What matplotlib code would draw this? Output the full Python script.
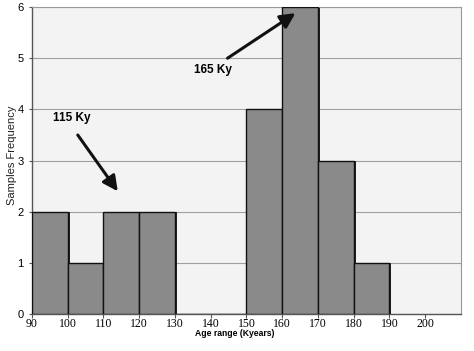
import matplotlib.pyplot as plt
import numpy as np

bin_edges = [90, 100, 110, 120, 130, 140, 150, 160, 170, 180, 190]
counts = [2, 1, 2, 2, 0, 0, 4, 6, 3, 1]
x_ticks = [90, 100, 110, 120, 130, 140, 150, 160, 170, 180, 190, 200]
y_ticks = [0, 1, 2, 3, 4, 5, 6]

fig = plt.figure(figsize=(4.74, 3.51), dpi=100)
fig.patch.set_facecolor('white')
ax = fig.add_axes([0.0675, 0.105, 0.905, 0.875])
ax.set_facecolor('#f3f3f3')

lefts = np.array(bin_edges[:-1])
widths = np.diff(bin_edges)
# shadow on right edge
ax.bar(lefts + 0.5, counts, width=widths, align='edge', color='#222222',
       edgecolor='none', zorder=2)
ax.bar(lefts, counts, width=widths, align='edge', color='#8a8a8a',
       edgecolor='#111111', linewidth=1.0, zorder=3)

ax.set_xlim(90, 210)
ax.set_ylim(0, 6)
ax.set_xticks(x_ticks)
ax.set_xticklabels([str(t) for t in x_ticks], family='Liberation Serif', fontsize=8.5)
ax.set_yticks(y_ticks)
ax.set_yticklabels([str(t) for t in y_ticks], family='Liberation Sans', fontsize=8)
ax.yaxis.grid(True, color='#a0a0a0', linewidth=0.8, zorder=0)
ax.set_axisbelow(True)
ax.tick_params(axis='x', length=3, width=0.8, pad=-0.5, color='#555555')
ax.tick_params(axis='y', length=2, width=0.8, pad=4, color='#555555')
for side in ['top', 'right']:
    ax.spines[side].set_color('#999999')
    ax.spines[side].set_linewidth(0.8)
for side in ['left', 'bottom']:
    ax.spines[side].set_color('#555555')
    ax.spines[side].set_linewidth(1.0)

ax.set_xlabel('Age range (Kyears)', family='Liberation Sans', fontsize=6.2,
              fontweight='bold', va='center')
ax.xaxis.set_label_coords(0.472, -0.064)
ax.set_ylabel('Samples Frequency', family='Liberation Sans', fontsize=8,
              va='center', color='#222222')
ax.yaxis.set_label_coords(-0.047, 0.518)

arrow = dict(arrowstyle='-|>,head_length=0.9,head_width=0.45', color='#111111',
             lw=2.2, shrinkA=0, shrinkB=0)
ax.annotate('', xy=(114, 2.4), xytext=(102.8, 3.5), arrowprops=arrow, zorder=5)
ax.text(101, 3.84, '115 Ky', family='Liberation Sans', fontsize=8.5,
        fontweight='bold', ha='center', va='center')
ax.annotate('', xy=(163.7, 5.88), xytext=(144.7, 5.0), arrowprops=arrow, zorder=5)
ax.text(140.5, 4.77, '165 Ky', family='Liberation Sans', fontsize=8.5,
        fontweight='bold', ha='center', va='center')

fig.savefig('out.png', dpi=100, facecolor='white')
